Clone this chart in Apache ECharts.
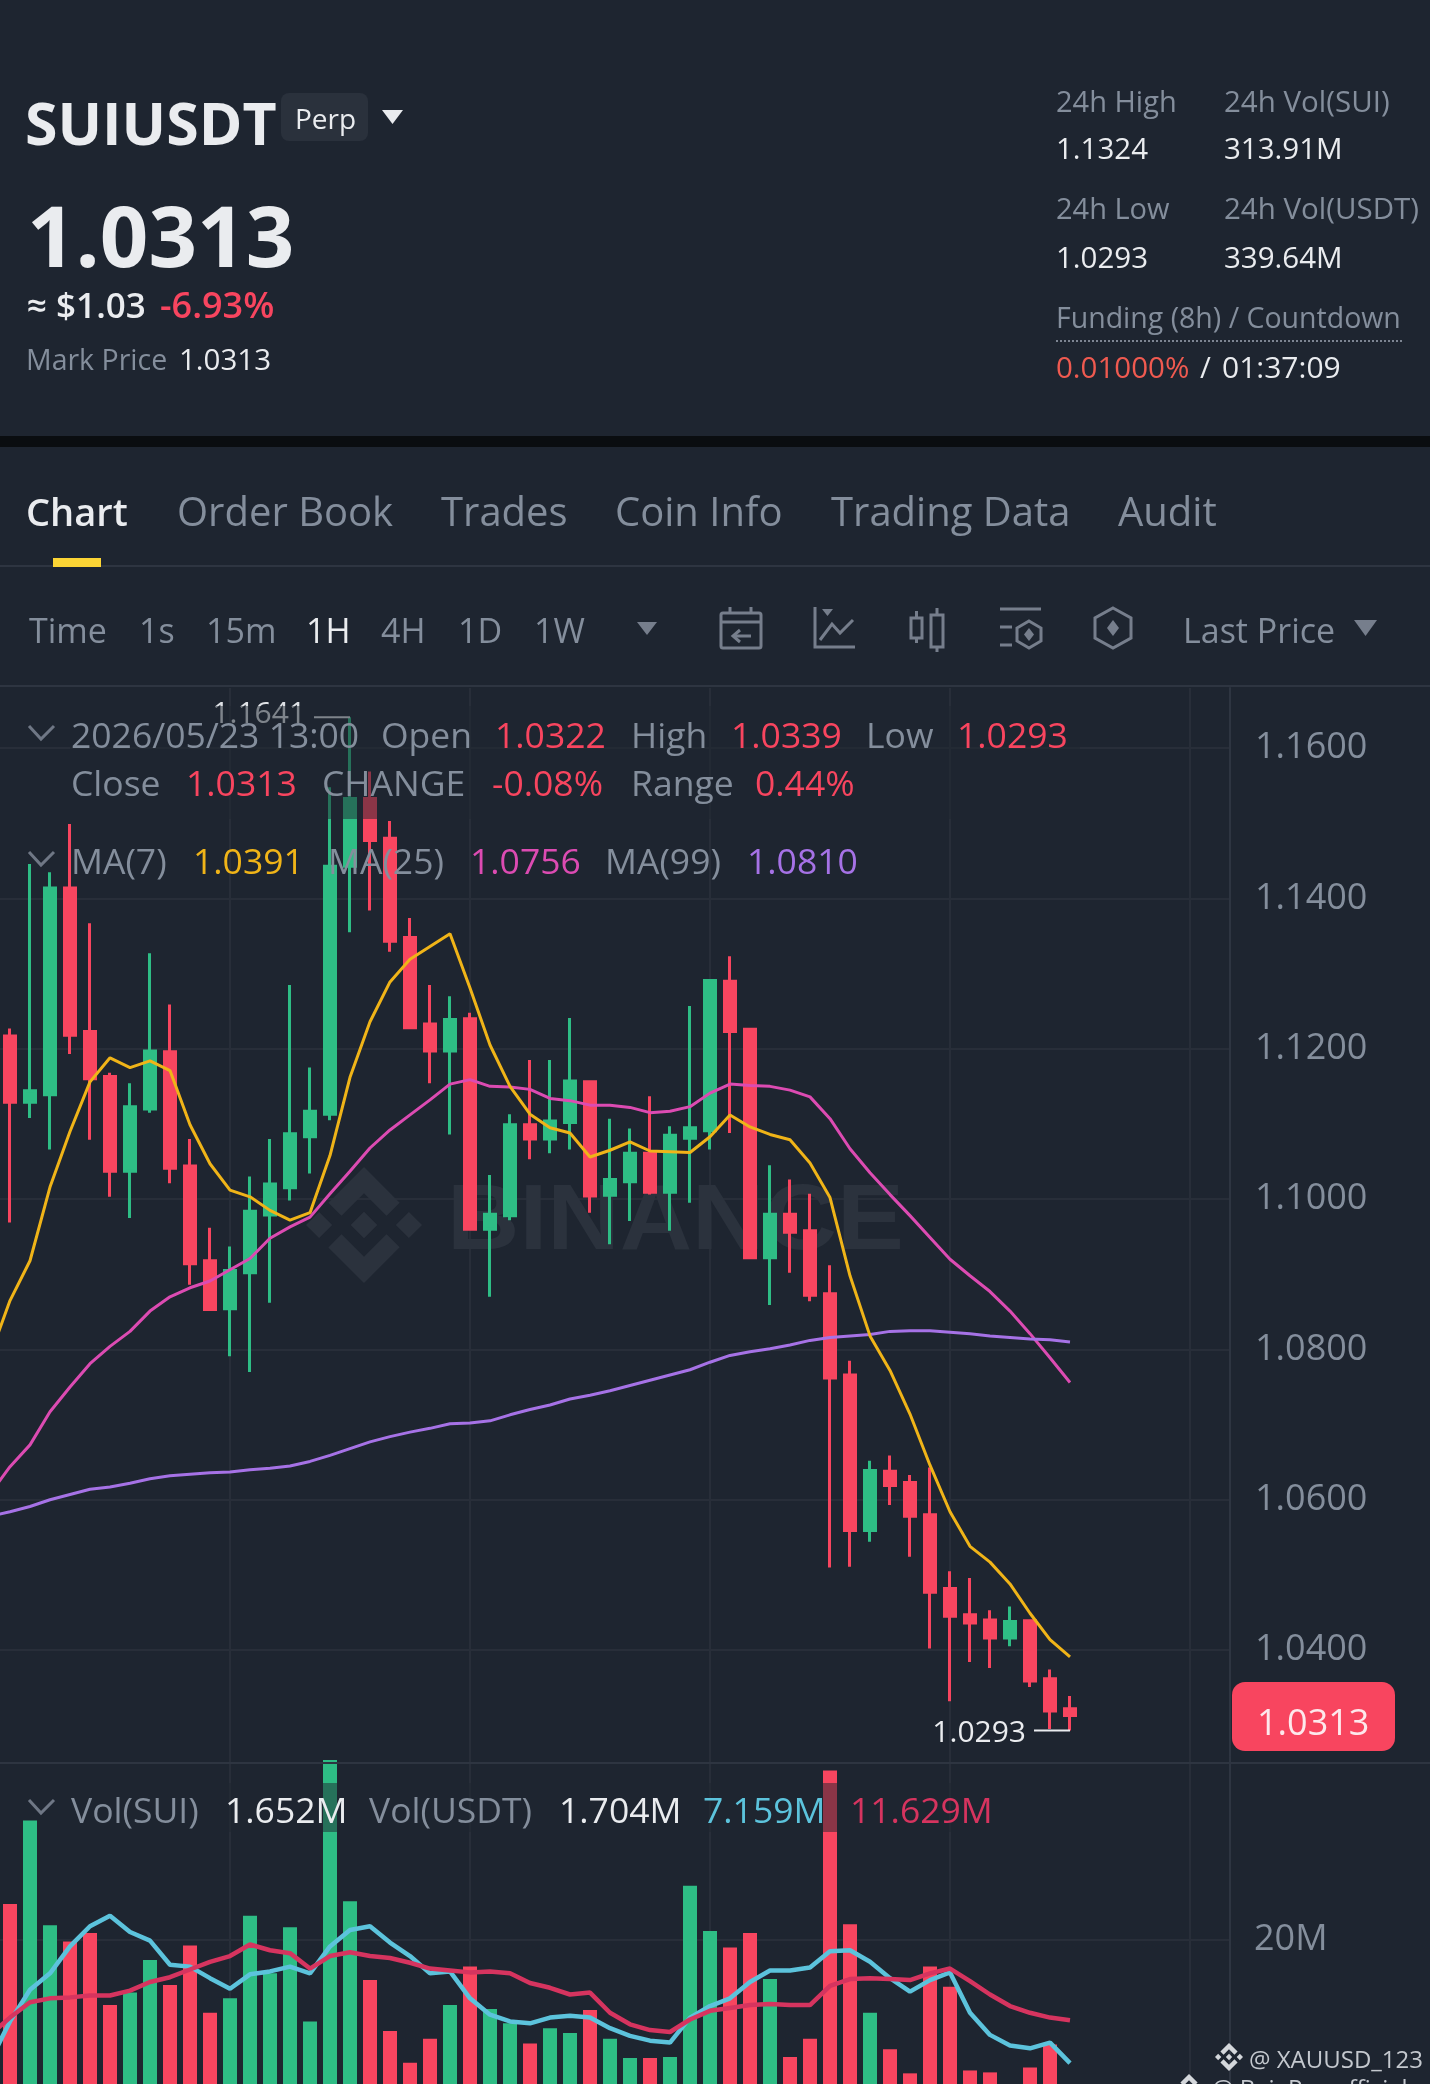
<!DOCTYPE html>
<html><head><meta charset="utf-8">
<style>html,body{margin:0;padding:0;background:#1e2530;overflow:hidden}#c{width:1430px;height:2084px}</style>
<script src="https://cdn.jsdelivr.net/npm/echarts@6/dist/echarts.min.js"></script>
</head><body><div id="c"></div>
<script>
const hours=['05/21 08:00','05/21 09:00','05/21 10:00','05/21 11:00','05/21 12:00','05/21 13:00','05/21 14:00','05/21 15:00','05/21 16:00','05/21 17:00','05/21 18:00','05/21 19:00','05/21 20:00','05/21 21:00','05/21 22:00','05/21 23:00','05/22 00:00','05/22 01:00','05/22 02:00','05/22 03:00','05/22 04:00','05/22 05:00','05/22 06:00','05/22 07:00','05/22 08:00','05/22 09:00','05/22 10:00','05/22 11:00','05/22 12:00','05/22 13:00','05/22 14:00','05/22 15:00','05/22 16:00','05/22 17:00','05/22 18:00','05/22 19:00','05/22 20:00','05/22 21:00','05/22 22:00','05/22 23:00','05/23 00:00','05/23 01:00','05/23 02:00','05/23 03:00','05/23 04:00','05/23 05:00','05/23 06:00','05/23 07:00','05/23 08:00','05/23 09:00','05/23 10:00','05/23 11:00','05/23 12:00','05/23 13:00'];
// open, close, low, high
const candles=[[1.1217,1.1129,1.0969,1.1227],[1.1129,1.1144,1.1108,1.1446],[1.1139,1.1414,1.1066,1.1435],[1.1414,1.1218,1.1193,1.1499],[1.1223,1.1160,1.1079,1.1367],[1.1163,1.1037,1.1003,1.1168],[1.1037,1.1123,1.0975,1.1154],[1.1120,1.1197,1.1115,1.1327],[1.1196,1.1041,1.1021,1.1259],[1.1044,1.0914,1.0886,1.1080],[1.0918,1.0853,1.0853,1.0962],[1.0854,1.0905,1.0791,1.0937],[1.0902,1.0984,1.0770,1.1030],[1.0979,1.1020,1.0862,1.1080],[1.1015,1.1087,1.0998,1.1285],[1.1083,1.1117,1.1034,1.1175],[1.1113,1.1443,1.1105,1.1548],[1.1443,1.1533,1.1355,1.1641],[1.1533,1.1477,1.1384,1.1569],[1.1480,1.1343,1.1329,1.1503],[1.1348,1.1228,1.1228,1.1374],[1.1233,1.1197,1.1154,1.1285],[1.1197,1.1239,1.1086,1.1270],[1.1240,1.0960,1.0959,1.1248],[1.0960,1.0980,1.0870,1.1032],[1.0978,1.1099,1.0972,1.1113],[1.1099,1.1080,1.1053,1.1185],[1.1080,1.1104,1.1061,1.1185],[1.1102,1.1157,1.1066,1.1241],[1.1156,1.1004,1.0982,1.1158],[1.1005,1.1026,1.0940,1.1107],[1.1023,1.1061,1.0971,1.1094],[1.1061,1.1009,1.1006,1.1137],[1.1009,1.1085,1.0958,1.1097],[1.1081,1.1095,1.0995,1.1257],[1.1091,1.1291,1.1066,1.1292],[1.1290,1.1223,1.1088,1.1323],[1.1226,1.0922,1.0921,1.1226],[1.0922,1.0980,1.0859,1.1045],[1.0980,1.0956,1.0902,1.1026],[1.0958,1.0872,1.0864,1.1007],[1.0874,1.0762,1.0510,1.0912],[1.0766,1.0559,1.0511,1.0785],[1.0559,1.0639,1.0544,1.0652],[1.0638,1.0619,1.0593,1.0659],[1.0623,1.0578,1.0524,1.0633],[1.0580,1.0477,1.0402,1.0643],[1.0482,1.0445,1.0332,1.0505],[1.0447,1.0436,1.0384,1.0496],[1.0440,1.0416,1.0376,1.0453],[1.0416,1.0438,1.0405,1.0458],[1.0439,1.0359,1.0351,1.0440],[1.0362,1.0319,1.0295,1.0374],[1.0322,1.0313,1.0293,1.0339]];
// the moving averages start one hour before the first visible candle
const ma7=[1.0792,1.0865,1.0918,1.1016,1.1090,1.1156,1.1188,1.1175,1.1184,1.1171,1.1099,1.1047,1.1012,1.1003,1.0985,1.0972,1.0982,1.1058,1.1162,1.1236,1.1289,1.1319,1.1336,1.1353,1.1281,1.1205,1.1150,1.1113,1.1095,1.1088,1.1056,1.1065,1.1076,1.1064,1.1063,1.1062,1.1083,1.1112,1.1096,1.1086,1.1079,1.1048,1.1002,1.0898,1.0818,1.0772,1.0714,1.0646,1.0584,1.0538,1.0517,1.0488,1.0449,1.0414,1.0391];
const ma25=[1.0608,1.0644,1.0673,1.0717,1.0750,1.0781,1.0804,1.0824,1.0851,1.0870,1.0882,1.0891,1.0906,1.0921,1.0948,1.0963,1.0976,1.1007,1.1037,1.1068,1.1092,1.1112,1.1132,1.1153,1.1159,1.1150,1.1149,1.1146,1.1134,1.1131,1.1125,1.1125,1.1122,1.1115,1.1117,1.1123,1.1141,1.1153,1.1151,1.1150,1.1145,1.1136,1.1107,1.1067,1.1035,1.1006,1.0978,1.0949,1.0920,1.0898,1.0877,1.0851,1.0821,1.0789,1.0756];
const ma99=[1.0578,1.0584,1.0591,1.0600,1.0607,1.0614,1.0617,1.0622,1.0628,1.0632,1.0634,1.0636,1.0637,1.0640,1.0642,1.0645,1.0651,1.0659,1.0668,1.0677,1.0684,1.0690,1.0695,1.0701,1.0702,1.0705,1.0713,1.0720,1.0726,1.0734,1.0739,1.0745,1.0752,1.0759,1.0766,1.0773,1.0783,1.0792,1.0797,1.0801,1.0806,1.0812,1.0816,1.0818,1.0820,1.0824,1.0825,1.0825,1.0823,1.0821,1.0818,1.0816,1.0814,1.0813,1.0810];
const volumes=[23.7,32.4,21.5,19.8,20.7,13.2,14.5,17.9,15.3,19.4,12.4,13.9,22.5,16.5,21.3,11.5,38.7,24.0,15.8,10.5,7.2,9.7,13.2,17.2,12.8,11.3,9.2,10.8,10.3,12.7,9.7,7.7,7.7,7.8,25.6,20.9,19.2,20.7,15.9,7.8,9.7,37.6,21.6,12.4,8.6,6.1,17.2,15.1,6.4,6.2,4.0,6.7,9.1,1.7];
const volMaBlue=[7.35,11.5,14.8,16.5,19.3,21.4,22.5,20.8,19.9,17.4,17.2,16.0,14.9,16.4,16.7,17.2,16.5,19.3,21.0,21.4,19.7,18.3,16.5,16.7,13.9,12.2,11.5,11.3,11.9,12.1,11.9,10.8,10.0,9.5,9.3,11.9,13.1,13.9,15.6,16.8,16.8,17.1,18.8,18.9,17.7,16.0,14.6,15.8,16.6,12.4,10.1,9.0,8.7,9.3,7.159];
const volMaRed=[10.1,11.9,13.5,13.9,14.0,14.2,14.2,14.7,15.6,16.1,16.9,17.7,18.3,19.5,18.9,18.6,17.0,18.3,18.7,18.3,18.1,17.6,17.0,16.8,16.6,16.7,16.5,15.5,15.0,14.3,14.5,12.4,11.2,10.6,10.4,11.7,12.6,12.9,13.2,13.3,13.2,13.2,15.2,15.9,16.0,15.9,15.8,16.5,17.0,15.7,14.3,13.1,12.4,11.9,11.629];
const priceTicks=[1.16,1.14,1.12,1.10,1.08,1.06,1.04];
const tabs=['Chart','Order Book','Trades','Coin Info','Trading Data','Audit'];
const intervals=['Time','1s','15m','1H','4H','1D','1W'];

const UP='#2ebd85',DOWN='#f8455f',BG='#1e2530',GRID='#282e39',LINE='#2e3541',GREY='#848e9c',WHITE='#eaecef',FONT='"Open Sans",sans-serif';
const YEL='#f0b418',MAG='#dc4bb2',PUR='#a672e6',BLUE='#5cc3dc',CRIM='#d6345f';
const categories=['',...hours,...new Array(8).fill('')];
const candlePad=[['-','-','-','-'],...candles];

const g=[];
function T(s,x,base,size,fill,weight,opt){g.push(Object.assign({type:'text',z:60,x:x,y:base-0.25*size,style:{text:s,fill:fill,font:`${weight||400} ${size}px ${FONT}`,textAlign:(opt&&opt.align)||'left',textVerticalAlign:'middle'}},opt&&opt.el));}
function L(x1,y1,x2,y2,c,w,extra){g.push(Object.assign({type:'line',z:55,shape:{x1,y1,x2,y2},style:{stroke:c,lineWidth:w,lineDash:extra&&extra.dash}},{}));}
function R(x,y,w,h,c,r,z){g.push({type:'rect',z:z||55,shape:{x,y,width:w,height:h,r:r||0},style:{fill:c}});}
function P(pts,c,z){g.push({type:'polygon',z:z||56,shape:{points:pts},style:{fill:c}});}
function PL(pts,c,w){g.push({type:'polyline',z:56,shape:{points:pts},style:{stroke:c,lineWidth:w,fill:null}});}
function chevron(x,y){PL([[x,y],[x+12,y+13],[x+25,y]],'#6f7785',3);}
function logo(cx,cy,size,c,z){
  const k=size/126.61,m=(x,y)=>[cx+(x-63.3)*k,cy+(y-63.3)*k];
  const shapes=[[[38.73,53.2],[63.31,28.63],[87.9,53.22],[102.2,38.92],[63.31,0],[24.43,38.88]],
    [[0,63.31],[14.3,49.01],[28.6,63.31],[14.3,77.61]],
    [[98.01,63.31],[112.31,49.01],[126.61,63.31],[112.31,77.61]],
    [[48.83,63.3],[63.31,48.82],[77.8,63.3],[63.31,77.79]],
    [[38.73,73.41],[63.31,97.98],[87.9,73.39],[102.2,87.69],[63.31,126.61],[24.43,87.73]]];
  shapes.forEach(s=>P(s.map(p=>m(p[0],p[1])),c,z));
}
// header
T('SUIUSDT',25,143,59,WHITE,700);
R(281,93,87,48,'#2a313c',8);
T('Perp',295,128,28,WHITE,400);
P([[382,110],[403,110],[392.5,124]],WHITE);
T('1.0313',27,264,85,WHITE,700);
T('≈ $1.03',27,317,35,WHITE,600);
T('-6.93%',160,317,36,DOWN,600);
T('Mark Price',26,369,28.5,GREY,400);
T('1.0313',179,369,29.5,WHITE,400);
T('24h High',1056,111,29,GREY);T('24h Vol(SUI)',1224,111,29.5,GREY);
T('1.1324',1056,158,29.5,WHITE);T('313.91M',1224,158,29.5,WHITE);
T('24h Low',1056,218,29,GREY);T('24h Vol(USDT)',1224,218,29.5,GREY);
T('1.0293',1056,267,29.5,WHITE);T('339.64M',1224,267,29.5,WHITE);
T('Funding (8h) / Countdown',1056,327,28.5,GREY);
L(1056,341,1402,341,'#7d8592',2,{dash:[2,2]});
T('0.01000%',1056,377,29.5,'#ef5a50');T('/',1200,377,29.5,WHITE);T('01:37:09',1222,377,30,WHITE);
R(0,436,1430,11,'#0a0d10');
// tabs
const tabX=[26,177,441,615,831,1118];
tabs.forEach((s,i)=>T(s,tabX[i],525,i===0?38:40,i===0?WHITE:GREY,i===0?600:500));
L(0,566,1430,566,LINE,2);
R(53,558,48,9,'#fcd535',0,57);
// toolbar
const intX=[29,139,206,306,381,458,534];
intervals.forEach((s,i)=>T(s,intX[i],642,34,s==='1H'?WHITE:GREY));
const IC='#767e8c';
P([[637,622],[657,622],[647,635]],IC);
g.push({type:'rect',z:56,shape:{x:721,y:613,width:40,height:35,r:2},style:{stroke:IC,lineWidth:3,fill:null}});
L(721,622,761,622,IC,3);L(730,607,730,613,IC,3);L(751,607,751,613,IC,3);
L(733,636,751,636,IC,3);PL([[740,630],[733,636],[740,642]],IC,3);
PL([[815,607],[815,647],[855,647]],IC,3);PL([[820,640],[832,624],[840,633],[853,620]],IC,3);P([[822,609],[833,609],[827.5,616]],IC);
g.push({type:'rect',z:56,shape:{x:911,y:618,width:11,height:20},style:{stroke:IC,lineWidth:3,fill:null}});
g.push({type:'rect',z:56,shape:{x:931,y:615,width:12,height:32},style:{stroke:IC,lineWidth:3,fill:null}});
L(916.5,611,916.5,618,IC,3);L(916.5,638,916.5,643,IC,3);L(937,608,937,615,IC,3);L(937,647,937,652,IC,3);
L(1000,609,1041,609,IC,3);L(1000,627,1012,627,IC,3);L(1000,645,1012,645,IC,3);
g.push({type:'polygon',z:56,shape:{points:[[1029,621],[1041,628],[1041,641],[1029,648],[1017,641],[1017,628]]},style:{stroke:IC,lineWidth:3,fill:null}});
P([[1029,628],[1034,634.5],[1029,641],[1024,634.5]],IC);
g.push({type:'polygon',z:56,shape:{points:[[1113,608],[1131,618],[1131,638],[1113,648],[1095,638],[1095,618]]},style:{stroke:IC,lineWidth:3,fill:null}});
P([[1113,620],[1119,628],[1113,636],[1107,628]],IC);
T('Last Price',1183,642,34,GREY);
P([[1354,620],[1377,620],[1365.5,636]],IC);
L(0,686,1430,686,LINE,2);
L(0,1763,1430,1763,LINE,2);
// watermark
logo(364,1225,116,'#2b323d',1);
g.push({type:'text',z:1,x:447,y:1224,scaleX:1.09,style:{text:'BINANCE',fill:'#2b323d',font:`700 92px "Liberation Sans",sans-serif`,textVerticalAlign:'middle'}});
// legend veil + rows
R(70,706,1010,113,'rgba(30,37,48,0.5)',0,50);
R(70,1783,930,49,'rgba(30,37,48,0.5)',0,50);
chevron(29,726);chevron(29,852);chevron(29,1800);
const LS=35.5;
T('2026/05/23 13:00',71,747,LS,GREY);
T('Open',381,747,LS,GREY);T('1.0322',495,747,LS,DOWN);
T('High',631,747,LS,GREY);T('1.0339',731,747,LS,DOWN);
T('Low',866,747,LS,GREY);T('1.0293',957,747,LS,DOWN);
T('Close',71,795,LS,GREY);T('1.0313',186,795,LS,DOWN);
T('CHANGE',322,795,LS,GREY);T('-0.08%',492,795,LS,DOWN);
T('Range',631,795,LS,GREY);T('0.44%',755,795,LS,DOWN);
T('MA(7)',71,873,LS,GREY);T('1.0391',193,873,LS,YEL);
T('MA(25)',328,873,LS,GREY);T('1.0756',470,873,LS,MAG);
T('MA(99)',605,873,LS,GREY);T('1.0810',747,873,LS,PUR);
T('Vol(SUI)',71,1822,LS,GREY);T('1.652M',225,1822,LS,WHITE);
T('Vol(USDT)',369,1822,LS,GREY);T('1.704M',559,1822,LS,WHITE);
T('7.159M',703,1822,LS,BLUE);T('11.629M',850,1822,LS,CRIM);
// last price tag
R(1232,1682,163,69,DOWN,13,58);
T('1.0313',1257,1734,36,'#fde8ec');
// credits
logo(1229,2057,28,'#d4d7db',59);
T('@ XAUUSD_123',1249,2067,24,'#c4c8ce');
logo(1189,2088,28,'#d4d7db',59);
T('@ BaiaPay official',1212,2096,24,'#c4c8ce');

const splitV={show:true,interval:(i)=>i%12===0&&i>0,lineStyle:{color:GRID,width:2}};
const axisLine={show:true,lineStyle:{color:LINE,width:2}};
const lbl={color:GREY,fontSize:36,fontFamily:FONT,margin:25,align:'left'};
const bubble=(v,c,oy)=>({coord:[hours[v.i],v.y],symbol:'rect',symbolSize:[36,2],symbolOffset:[-18,0],itemStyle:{color:c},
  label:{show:true,position:'left',distance:8,offset:[0,oy],formatter:v.y.toFixed(4),color:c,fontSize:30,fontFamily:FONT}});
const chart=echarts.init(document.getElementById('c'),null,{width:1430,height:2084});
chart.setOption({
  animation:false,backgroundColor:BG,
  grid:[{outerBoundsMode:'none',left:-10,width:1240,top:688,height:1112.4},{outerBoundsMode:'none',left:-10,width:1240,top:1757,height:375}],
  xAxis:[
    {type:'category',gridIndex:0,data:categories,boundaryGap:false,axisLine:{show:false},axisTick:{show:false},axisLabel:{show:false},splitLine:splitV},
    {type:'category',gridIndex:1,data:categories,boundaryGap:false,axisLine:{show:false},axisTick:{show:false},axisLabel:{show:false},splitLine:splitV}],
  yAxis:[
    {type:'value',gridIndex:0,position:'right',min:1.02,max:1.168,interval:0.02,axisLine,axisTick:{show:false},
     splitLine:{show:true,showMinLine:false,showMaxLine:false,lineStyle:{color:GRID,width:2}},
     axisLabel:Object.assign({},lbl,{showMinLabel:false,showMaxLabel:false,formatter:v=>priceTicks.some(t=>Math.abs(t-v)<1e-6)?v.toFixed(4):''})},
    {type:'value',gridIndex:1,position:'right',min:0,max:39,interval:20,axisLine,axisTick:{show:false},
     splitLine:{show:true,showMinLine:false,showMaxLine:false,lineStyle:{color:GRID,width:2}},
     axisLabel:Object.assign({},lbl,{margin:24,showMinLabel:false,showMaxLabel:false,formatter:v=>v===20?'20M':''})}],
  graphic:{elements:g},
  series:[
    {name:'Price',type:'candlestick',xAxisIndex:0,yAxisIndex:0,data:candlePad,barWidth:11,
     itemStyle:{color:UP,color0:DOWN,borderColor:UP,borderColor0:DOWN,borderWidth:3},
     markPoint:{silent:true,data:[bubble({i:17,y:1.1641},'#dfe2e6',-3),bubble({i:53,y:1.0293},WHITE,3)]}},
    {name:'MA(7)',type:'line',xAxisIndex:0,yAxisIndex:0,data:ma7,symbol:'none',lineStyle:{color:YEL,width:3},z:4},
    {name:'MA(25)',type:'line',xAxisIndex:0,yAxisIndex:0,data:ma25,symbol:'none',lineStyle:{color:MAG,width:3},z:3},
    {name:'MA(99)',type:'line',xAxisIndex:0,yAxisIndex:0,data:ma99,symbol:'none',lineStyle:{color:PUR,width:3},z:3},
    {name:'Vol',type:'bar',xAxisIndex:1,yAxisIndex:1,barWidth:14,clip:false,
     data:[null,...volumes].map((v,k)=>v==null?null:{value:v,itemStyle:{color:candles[k-1][1]>=candles[k-1][0]?UP:DOWN}})},
    {name:'Vol MA blue',type:'line',xAxisIndex:1,yAxisIndex:1,data:volMaBlue,symbol:'none',lineStyle:{color:BLUE,width:4.5},z:4},
    {name:'Vol MA red',type:'line',xAxisIndex:1,yAxisIndex:1,data:volMaRed,symbol:'none',lineStyle:{color:CRIM,width:4.5},z:5}
  ]
});
</script></body></html>
